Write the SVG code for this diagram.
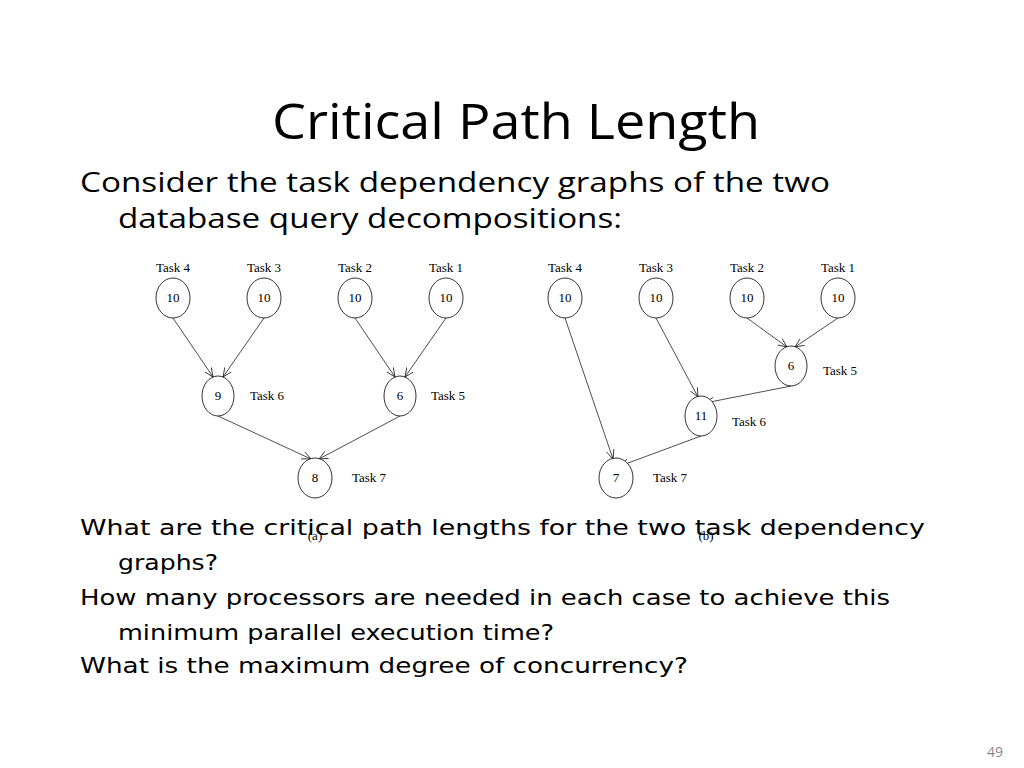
<svg xmlns="http://www.w3.org/2000/svg" width="1024" height="768" viewBox="0 0 1024 768">
<style>
.t{font-family:"Liberation Serif",serif;font-size:13px;fill:#000}
.n{font-family:"Liberation Serif",serif;font-size:13px;fill:#000;text-anchor:middle}
ellipse{fill:#fff;stroke:#000;stroke-width:0.8}
.c line{stroke:#000;stroke-width:0.7;marker-end:url(#a)}
.q{font-family:"DejaVu Sans",sans-serif;font-size:22px;fill:#000}
.h{font-family:"Open Sans","Liberation Sans",sans-serif;fill:#000}
</style>
<defs><marker id="a" markerWidth="10" markerHeight="10" refX="9" refY="5" orient="auto" markerUnits="userSpaceOnUse"><path d="M0,1 L9,5 L0,9" fill="none" stroke="#000" stroke-width="0.7"/></marker></defs>
<rect width="1024" height="768" fill="#fff"/>
<text class="h" x="272" y="139" font-size="50" textLength="488" lengthAdjust="spacingAndGlyphs">Critical Path Length</text>
<text class="h" font-size="28" x="80" y="192" textLength="750" lengthAdjust="spacingAndGlyphs">Consider the task dependency graphs of the two</text>
<text class="h" font-size="28" x="118" y="228" textLength="504" lengthAdjust="spacingAndGlyphs">database query decompositions:</text>
<g class="c">
<line x1="173" y1="318" x2="213" y2="377"/><line x1="264" y1="318" x2="223" y2="377"/>
<line x1="355" y1="318" x2="395" y2="377"/><line x1="446" y1="318" x2="405" y2="377"/>
<line x1="218" y1="416" x2="311" y2="459"/><line x1="400" y1="416" x2="319" y2="459"/>
<line x1="565" y1="318" x2="613" y2="459"/><line x1="656" y1="318" x2="698" y2="397"/>
<line x1="747" y1="318" x2="787" y2="347"/><line x1="838" y1="318" x2="795" y2="347"/>
<line x1="791" y1="386" x2="705" y2="403"/><line x1="701" y1="436" x2="620" y2="466"/>
</g>
<g id="a4"><text class="n" x="173" y="272">Task 4</text><ellipse cx="173" cy="298" rx="17" ry="20"/><text class="n" x="173" y="302">10</text></g>
<g id="a3"><text class="n" x="264" y="272">Task 3</text><ellipse cx="264" cy="298" rx="17" ry="20"/><text class="n" x="264" y="302">10</text></g>
<g id="a2"><text class="n" x="355" y="272">Task 2</text><ellipse cx="355" cy="298" rx="17" ry="20"/><text class="n" x="355" y="302">10</text></g>
<g id="a1"><text class="n" x="446" y="272">Task 1</text><ellipse cx="446" cy="298" rx="17" ry="20"/><text class="n" x="446" y="302">10</text></g>
<g id="a6"><ellipse cx="218" cy="396" rx="16" ry="20"/><text class="n" x="218" y="400">9</text><text class="t" x="250" y="400">Task 6</text></g>
<g id="a5"><ellipse cx="400" cy="396" rx="16" ry="20"/><text class="n" x="400" y="400">6</text><text class="t" x="431" y="400">Task 5</text></g>
<g id="a7"><ellipse cx="315" cy="478" rx="17" ry="20"/><text class="n" x="315" y="482">8</text><text class="t" x="352" y="482">Task 7</text></g>
<g id="b4"><text class="n" x="565" y="272">Task 4</text><ellipse cx="565" cy="298" rx="17" ry="20"/><text class="n" x="565" y="302">10</text></g>
<g id="b3"><text class="n" x="656" y="272">Task 3</text><ellipse cx="656" cy="298" rx="17" ry="20"/><text class="n" x="656" y="302">10</text></g>
<g id="b2"><text class="n" x="747" y="272">Task 2</text><ellipse cx="747" cy="298" rx="17" ry="20"/><text class="n" x="747" y="302">10</text></g>
<g id="b1"><text class="n" x="838" y="272">Task 1</text><ellipse cx="838" cy="298" rx="17" ry="20"/><text class="n" x="838" y="302">10</text></g>
<g id="b5"><ellipse cx="791" cy="366" rx="16" ry="20"/><text class="n" x="791" y="370">6</text><text class="t" x="823" y="375">Task 5</text></g>
<g id="b6"><ellipse cx="701" cy="416" rx="16" ry="20"/><text class="n" x="701" y="420">11</text><text class="t" x="732" y="426">Task 6</text></g>
<g id="b7"><ellipse cx="616" cy="478" rx="17" ry="20"/><text class="n" x="616" y="482">7</text><text class="t" x="653" y="482">Task 7</text></g>
<text class="n" x="315" y="540" font-size="11">(a)</text>
<text class="n" x="706" y="540" font-size="11">(b)</text>
<text class="q" x="80" y="535" textLength="845" lengthAdjust="spacingAndGlyphs">What are the critical path lengths for the two task dependency</text>
<text class="q" x="118" y="570" textLength="100" lengthAdjust="spacingAndGlyphs">graphs?</text>
<text class="q" x="80" y="605" textLength="810" lengthAdjust="spacingAndGlyphs">How many processors are needed in each case to achieve this</text>
<text class="q" x="118" y="640" textLength="436" lengthAdjust="spacingAndGlyphs">minimum parallel execution time?</text>
<text class="q" x="80" y="673" textLength="608" lengthAdjust="spacingAndGlyphs">What is the maximum degree of concurrency?</text>
<text x="1003" y="757" text-anchor="end" font-family="Open Sans,Liberation Sans,sans-serif" font-size="14" fill="#888">49</text>
</svg>
